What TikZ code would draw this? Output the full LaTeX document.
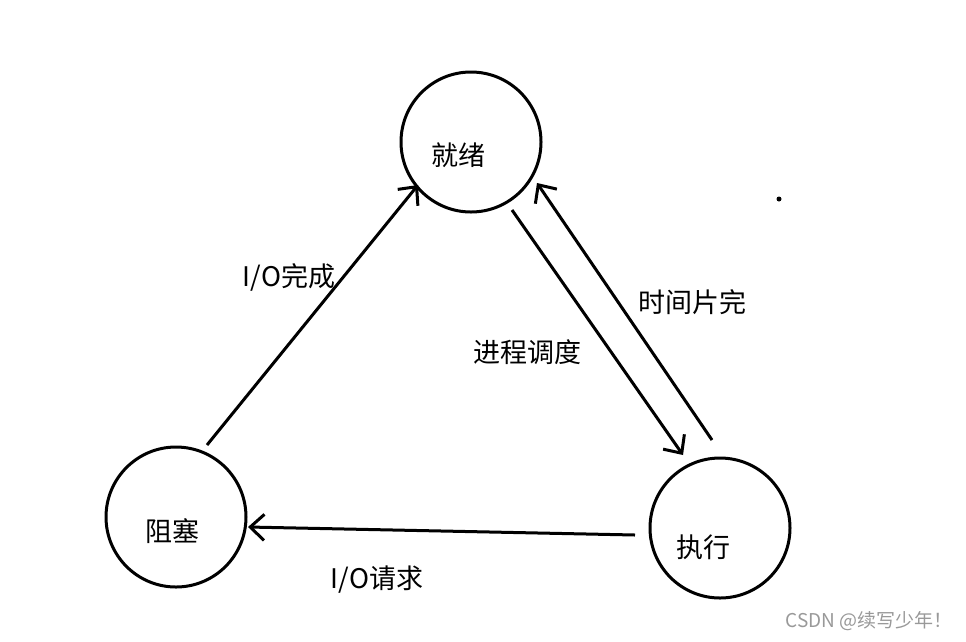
\documentclass[tikz,border=0pt]{standalone}
\usepackage{fontspec}
\newfontfamily\cjk{Noto Sans CJK SC}
\usetikzlibrary{arrows.meta}
\begin{document}
\begin{tikzpicture}[x=1pt,y=-1pt,
  st/.style={circle,draw,line width=3pt,minimum size=140pt,inner sep=0pt},
  arr/.style={line width=3pt,-{Straight Barb[length=14pt,width=26pt,line width=3pt]}},
  lbl/.style={font=\cjk\fontsize{27}{30}\selectfont}]
\useasboundingbox[fill=white] (0,0) rectangle (966,641);
\node[st] (r) at (471,142) {};
\node[st] (b) at (176,517) {};
\node[st] (e) at (720,528) {};
\node[lbl] at (458,155) {就绪};
\node[lbl] at (172,531) {阻塞};
\node[lbl] at (703,547) {执行};
\coordinate (a1) at (207,445); \coordinate (a2) at (418,185);
\coordinate (b1) at (512,210); \coordinate (b2) at (683,455);
\coordinate (c1) at (712,440); \coordinate (c2) at (537,183);
\coordinate (d1) at (635,535); \coordinate (d2) at (248,527);
\draw[arr] (a1) -- (a2);
\draw[arr] (b1) -- (b2);
\draw[arr] (c1) -- (c2);
\draw[arr] (d1) -- (d2);
\node[lbl] at (289,277) {I/O完成};
\node[lbl] at (527,352) {进程调度};
\node[lbl] at (692,302) {时间片完};
\node[lbl] at (377,580) {I/O请求};
\fill (779,199) circle (2.5pt);
\node[font=\cjk\fontsize{19}{22}\selectfont,text=gray!80] at (869,621) {CSDN @续写少年！};
\end{tikzpicture}
\end{document}
